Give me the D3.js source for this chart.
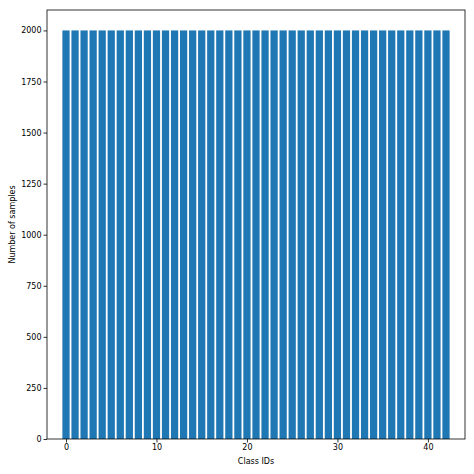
<!DOCTYPE html>
<html><head><meta charset="utf-8">
<script src="https://cdn.jsdelivr.net/npm/d3@7"></script>
<style>body{margin:0;background:#fff}text{font-family:"DejaVu Sans",sans-serif}</style>
</head><body><svg id="c" width="474" height="474"></svg>
<script>
var classIds = d3.range(0, 43);
var counts = classIds.map(function(){ return 2000; });
var xTicks = [0, 10, 20, 30, 40];
var yTicks = [0, 250, 500, 750, 1000, 1250, 1500, 1750, 2000];

var m = {l: 47, r: 465, t: 10, b: 439};
var svg = d3.select("#c");
var x = d3.scaleLinear().domain([-2.1, 44.1]).range([m.l, m.r]);
var y = d3.scaleLinear().domain([0, 2100]).range([m.b, m.t]);

svg.selectAll("rect.bar").data(classIds).enter().append("rect")
  .attr("class", "bar")
  .attr("x", function(d){ return x(d - 0.4); })
  .attr("width", function(){ return x(0.8) - x(0); })
  .attr("y", function(d, i){ return y(counts[i]); })
  .attr("height", function(d, i){ return y(0) - y(counts[i]); })
  .attr("fill", "#1f77b4");

var gx = svg.append("g").attr("transform", "translate(0," + m.b + ")")
  .call(d3.axisBottom(x).tickValues(xTicks).tickFormat(d3.format("d")).tickSize(3.5).tickPadding(2));
var gy = svg.append("g").attr("transform", "translate(" + m.l + ",0)")
  .call(d3.axisLeft(y).tickValues(yTicks).tickFormat(d3.format("d")).tickSize(3.5).tickPadding(2));
[gx, gy].forEach(function(g){
  g.select(".domain").remove();
  g.selectAll("text").attr("font-size", 8).attr("fill", "#000").style("font-family", "DejaVu Sans");
  g.selectAll("line").attr("stroke", "#000").attr("stroke-width", 0.8);
});
svg.append("rect").attr("x", m.l).attr("y", m.t).attr("width", m.r - m.l).attr("height", m.b - m.t)
  .attr("fill", "none").attr("stroke", "#000").attr("stroke-width", 0.8);

svg.append("text").attr("x", (m.l + m.r) / 2).attr("y", 464).attr("text-anchor", "middle")
  .attr("font-size", 8).text("Class IDs");
svg.append("text").attr("transform", "translate(15," + ((m.t + m.b) / 2) + ") rotate(-90)")
  .attr("text-anchor", "middle").attr("font-size", 8).text("Number of samples");
</script></body></html>
